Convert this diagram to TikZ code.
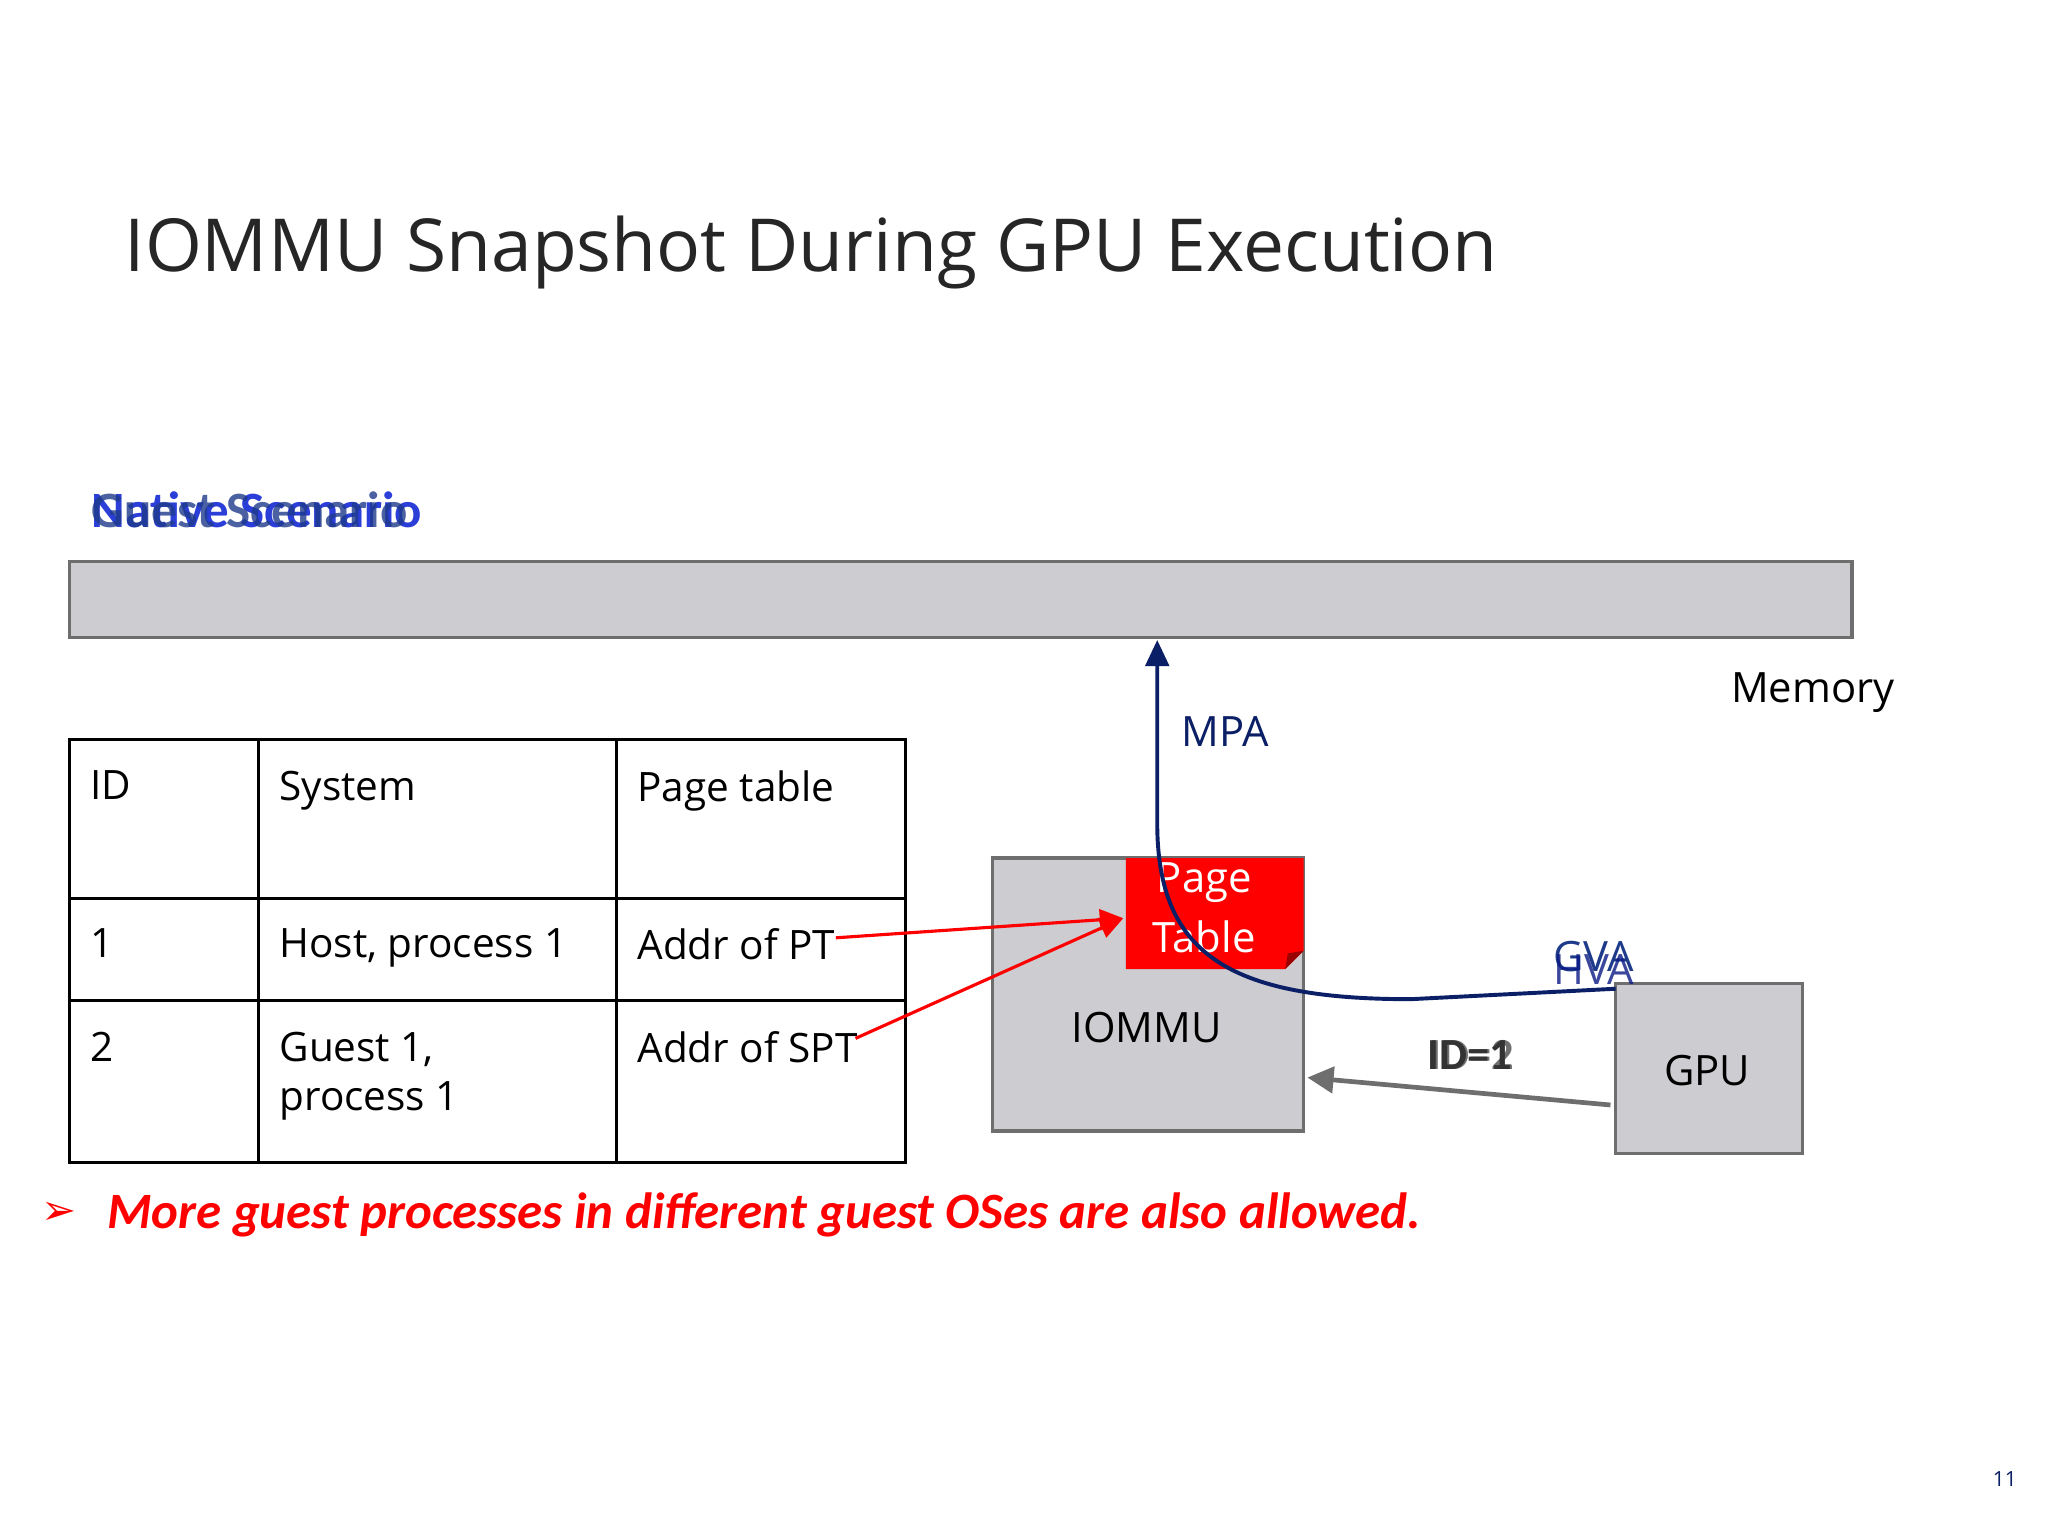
\documentclass[tikz,border=0pt]{standalone}
\usepackage{fontspec}
\setmainfont{Open Sans}
\newfontfamily\calfont{Carlito}
\newfontfamily\symfont{DejaVu Sans}
\usetikzlibrary{arrows.meta}
\definecolor{boxgray}{HTML}{CDCCD0}
\definecolor{edgegray}{HTML}{6E6E6E}
\definecolor{navy}{HTML}{0B1F66}
\definecolor{blueA}{HTML}{2B3FD8}
\definecolor{blueB}{HTML}{1E3A8A}
\tikzset{x=0.5pt,y=-0.5pt,
 graybox/.style={draw=edgegray,line width=1.3pt,fill=boxgray},
 cell/.style={font=\fontsize{15.5}{19}\selectfont,anchor=north west,align=left},
 redarrow/.style={red,line width=1.2pt,-{Triangle[length=9pt,width=8pt]}}}
\begin{document}
\begin{tikzpicture}
\useasboundingbox[fill=white] (0,0) rectangle (1568,1176);
\node[anchor=base west,inner sep=0,font=\fontsize{28}{34}\selectfont,text=black!85] (title) at (95,208) {IOMMU Snapshot During GPU Execution};
\node[anchor=base west,inner sep=0,font=\calfont\bfseries\fontsize{19.5}{22}\selectfont,text=blueA] (nat) at (70,404) {Native Scenario};
\node[anchor=base west,inner sep=0,font=\calfont\bfseries\fontsize{19.5}{22}\selectfont,text=blueB,opacity=0.8] (gst) at (70,404) {Guest Scenario};
\draw[graybox] (53,430) rectangle (1418,488);
\coordinate (memtop) at (886,490);
\node[font=\fontsize{16}{20}\selectfont] (mem) at (1388,530) {Memory};
% table
\draw[line width=1.1pt] (53,566) rectangle (693,890);
\foreach \y in {688,766} \draw[line width=1.1pt] (53,\y) -- (693,\y);
\foreach \x in {198,472} \draw[line width=1.1pt] (\x,566) -- (\x,890);
\node[cell] (c11) at (62,583) {ID};
\node[cell] (c12) at (207,583) {System};
\node[cell] (c13) at (481,583) {Page table};
\node[cell] (c21) at (62,704) {1};
\node[cell] (c22) at (207,704) {Host, process 1};
\node[cell] (c23) at (481,704) {Addr of PT};
\node[cell] (c31) at (62,783) {2};
\node[cell] (c32) at (207,783) {Guest 1,\\process 1};
\node[cell] (c33) at (481,783) {Addr of SPT};
% IOMMU
\draw[graybox] (760,657) rectangle (998,866);
\node[font=\fontsize{16}{20}\selectfont] (iommu) at (878,787) {IOMMU};
\fill[red] (862,657) -- (998,657) -- (998,728) -- (984,742) -- (862,742) -- cycle;
\fill[red!60!black] (998,728) -- (984,742) -- (986,730) -- cycle;
\node[text=white,align=center,font=\fontsize{16}{23}\selectfont] (pt) at (922,695) {Page\\Table};
\coordinate (pttip) at (860,703);
% GPU
\draw[graybox] (1237,753) rectangle (1380,883);
\node[font=\fontsize{16}{20}\selectfont] (gpu) at (1307,820) {GPU};
\draw[edgegray,line width=1.8pt,-{Triangle[length=10pt,width=10pt]}] (1233,846) -- (1001,825);
\node[font=\calfont\bfseries\fontsize{17}{20}\selectfont,text=black!80] (id1) at (1125,808) {ID=1};
\node[font=\calfont\bfseries\fontsize{17}{20}\selectfont,text=black!80,opacity=0.7] (id2) at (1127,808) {ID=2};
% navy path
\draw[navy,line width=1.5pt,-{Triangle[length=10pt,width=9pt]}] (1237,757) -- (1080,765) .. controls (940,765) and (886,730) .. (886,630) -- (memtop);
\node[font=\fontsize{16}{20}\selectfont,text=blueB] (gva) at (1220,732) {GVA};
\node[font=\fontsize{16}{20}\selectfont,text=navy!80!blue,opacity=0.8] (hva) at (1220,742) {HVA};
\node[font=\fontsize{16}{20}\selectfont,text=navy] (mpa) at (938,560) {MPA};
% red arrows
\draw[redarrow] (640,718) -- (pttip);
\draw[redarrow] (655,795) -- (pttip);
% bullet
\node[text=red,font=\symfont\fontsize{16}{18}\selectfont] (bul) at (45,929) {➢};
\node[anchor=west,text=red,font=\calfont\bfseries\itshape\fontsize{19.5}{22}\selectfont] (note) at (75,930) {More guest processes in different guest OSes are also allowed.};
\node[font=\fontsize{8}{10}\selectfont,text=navy] (pg) at (1535,1132) {11};
\end{tikzpicture}
\end{document}
